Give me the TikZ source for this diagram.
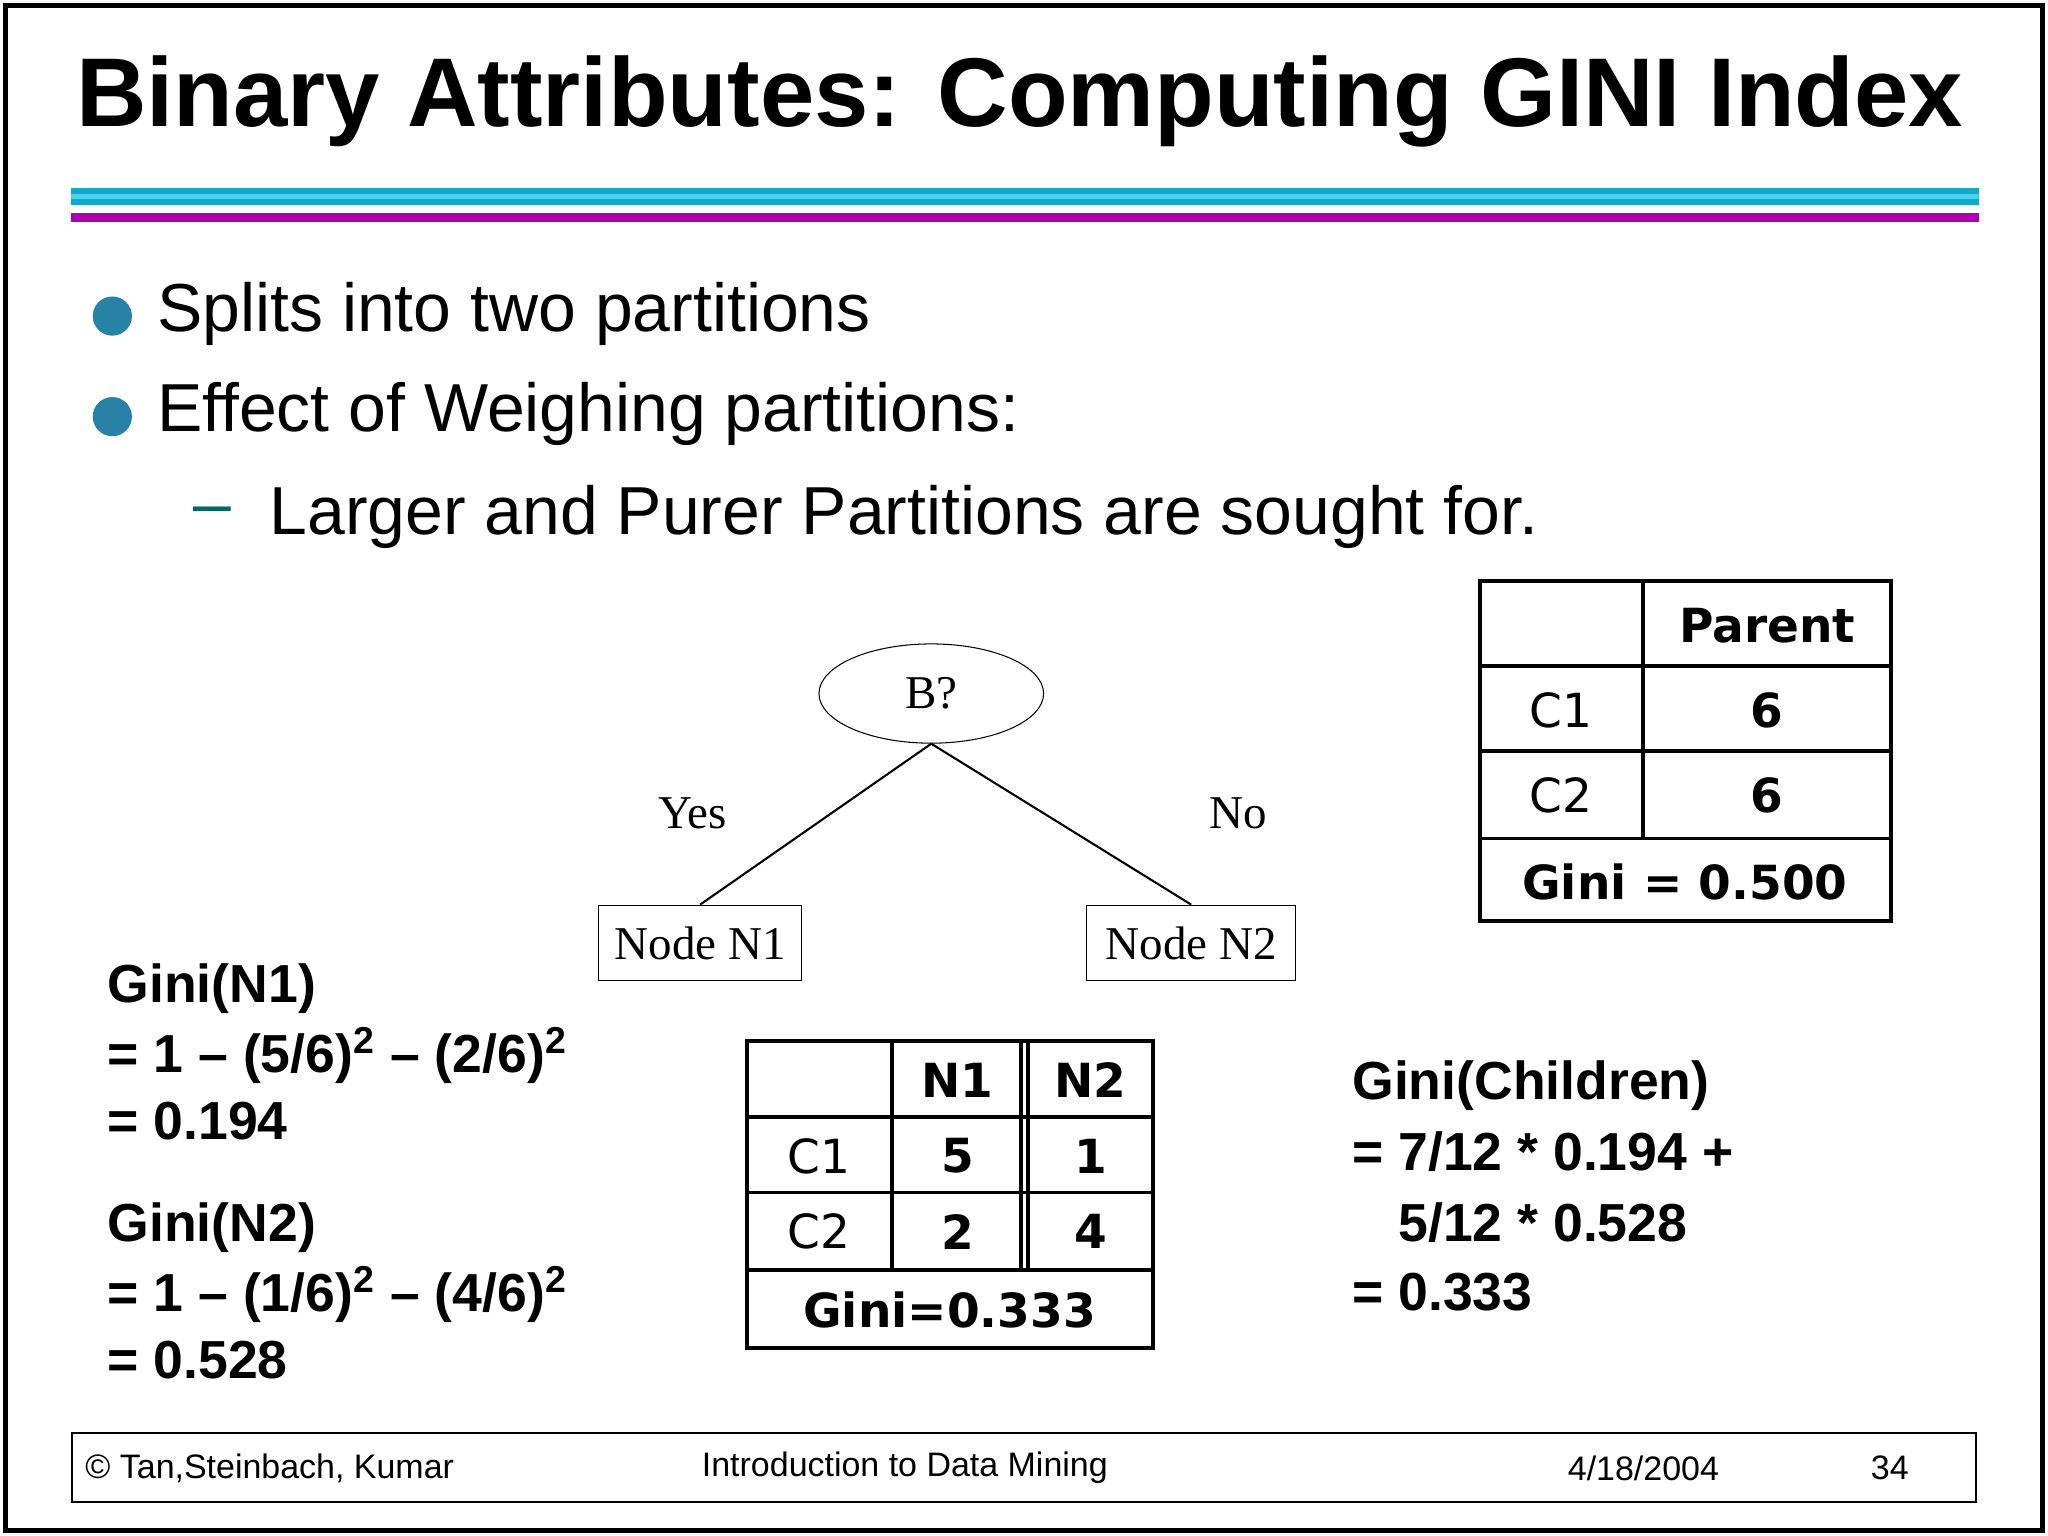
\documentclass[tikz,border=0pt]{standalone}
\usepackage{fontspec}
\usetikzlibrary{shapes.geometric}
\setmainfont{Liberation Serif}
\newfontfamily\arial{Liberation Sans}
\newfontfamily\verd{DejaVu Sans}
\begin{document}
\begin{tikzpicture}[x=0.5pt,y=-0.5pt,
  tline/.style={line width=1.5pt},
  bul/.style={anchor=west,font=\arial\fontsize{26}{30}\selectfont,inner sep=0},
  gtxt/.style={anchor=west,font=\arial\bfseries\fontsize{20.5}{24}\selectfont,inner sep=0},
  cell/.style={font=\verd\fontsize{18}{21}\selectfont,inner sep=0},
  bcell/.style={font=\verd\bfseries\fontsize{18}{21}\selectfont,inner sep=0},
  foot/.style={anchor=west,font=\arial\fontsize{13}{15}\selectfont,inner sep=0}]
\useasboundingbox (0,0) rectangle (1568,1176);
\fill[white] (0,0) rectangle (1568,1176);
\draw[line width=2pt] (4,4) rectangle (1564,1172);
\node[anchor=base west,inner sep=0,font=\arial\bfseries\fontsize{37.4}{40}\selectfont] (title) at (58,97) {Binary Attributes: Computing GINI Index};
\draw[line width=6.5pt,color={rgb,255:red,20;green,168;blue,200}] (54,150.5) -- (1515,150.5);
\draw[line width=2pt,color={rgb,255:red,70;green,210;blue,240}] (54,150.5) -- (1515,150.5);
\draw[line width=3.5pt,color={rgb,255:red,176;green,0;blue,176}] (54,166.5) -- (1515,166.5);
\fill[color={rgb,255:red,40;green,130;blue,165}] (86,242) circle (15);
\fill[color={rgb,255:red,40;green,130;blue,165}] (86,319) circle (15);
\node[bul] (b1) at (120,240) {Splits into two partitions};
\node[bul] (b2) at (120,317) {Effect of Weighing partitions:};
\node[bul,text=teal!80!black] (d) at (148,396) {–};
\node[bul] (b3) at (206,396) {Larger and Purer Partitions are sought for.};
% tree
\node[draw,ellipse,minimum width=86pt,minimum height=38pt,inner sep=0,font=\fontsize{18}{20}\selectfont] (B) at (713,531) {B?};
\node[draw,minimum width=78pt,minimum height=29pt,inner sep=0,font=\fontsize{18}{20}\selectfont] (N1) at (536,722) {Node N1};
\node[draw,minimum width=80pt,minimum height=29pt,inner sep=0,font=\fontsize{18}{20}\selectfont] (N2) at (912,722) {Node N2};
\draw[line width=0.8pt] (B.south) -- (N1.north);
\draw[line width=0.8pt] (B.south) -- (N2.north);
\node[font=\fontsize{18}{20}\selectfont] (yes) at (530,623) {Yes};
\node[font=\fontsize{18}{20}\selectfont] (no) at (948,623) {No};
% parent table
\draw[tline] (1133,445) rectangle (1448,705);
\foreach \y in {510,575,642} \draw[tline] (1133,\y) -- (1448,\y);
\draw[tline] (1258,445) -- (1258,642);
\node[bcell] (ph) at (1353,479) {Parent};
\node[cell] (pc1) at (1195,544) {C1};
\node[bcell] (p6a) at (1353,544) {6};
\node[cell] (pc2) at (1195,609) {C2};
\node[bcell] (p6b) at (1353,609) {6};
\node[bcell] (pg) at (1290,675) {Gini = 0.500};
% children table
\draw[tline] (572,797) rectangle (883,1032);
\foreach \y in {855,913,972} \draw[tline] (572,\y) -- (883,\y);
\draw[tline] (683,797) -- (683,972);
\draw[tline] (782,797) -- (782,972);
\draw[tline] (787,797) -- (787,972);
\node[bcell] (h1) at (733,827) {N1};
\node[bcell] (h2) at (835,827) {N2};
\node[cell] (cc1) at (627,885) {C1};
\node[bcell] (c15) at (733,885) {5};
\node[bcell] (c11) at (835,885) {1};
\node[cell] (cc2) at (627,943) {C2};
\node[bcell] (c22) at (733,943) {2};
\node[bcell] (c24) at (835,943) {4};
\node[bcell] (cg) at (727,1003) {Gini=0.333};
% left texts
\node[gtxt] (g1) at (82,757) {Gini(N1)};
\node[gtxt] (g1a) at (82,808) {= 1 – (5/6)\textsuperscript{2} – (2/6)\textsuperscript{2}};
\node[gtxt] (g1b) at (82,858) {= 0.194};
\node[gtxt] (g2) at (82,940) {Gini(N2)};
\node[gtxt] (g2a) at (82,991) {= 1 – (1/6)\textsuperscript{2} – (4/6)\textsuperscript{2}};
\node[gtxt] (g2b) at (82,1041) {= 0.528};
\node[gtxt] (gc) at (1035,831) {Gini(Children)};
\node[gtxt] (gc1) at (1035,882) {= 7/12 * 0.194 +};
\node[gtxt] (gc2) at (1035,936) {\phantom{=} 5/12 * 0.528};
\node[gtxt] (gc3) at (1035,989) {= 0.333};
% footer
\draw[line width=1pt] (55,1097) rectangle (1513,1150);
\node[foot] (f1) at (65,1124) {© Tan,Steinbach, Kumar};
\node[foot] (f2) at (537,1124) {Introduction to Data Mining};
\node[foot] (f3) at (1200,1124) {4/18/2004};
\node[foot] (f4) at (1432,1124) {34};
\end{tikzpicture}
\end{document}
